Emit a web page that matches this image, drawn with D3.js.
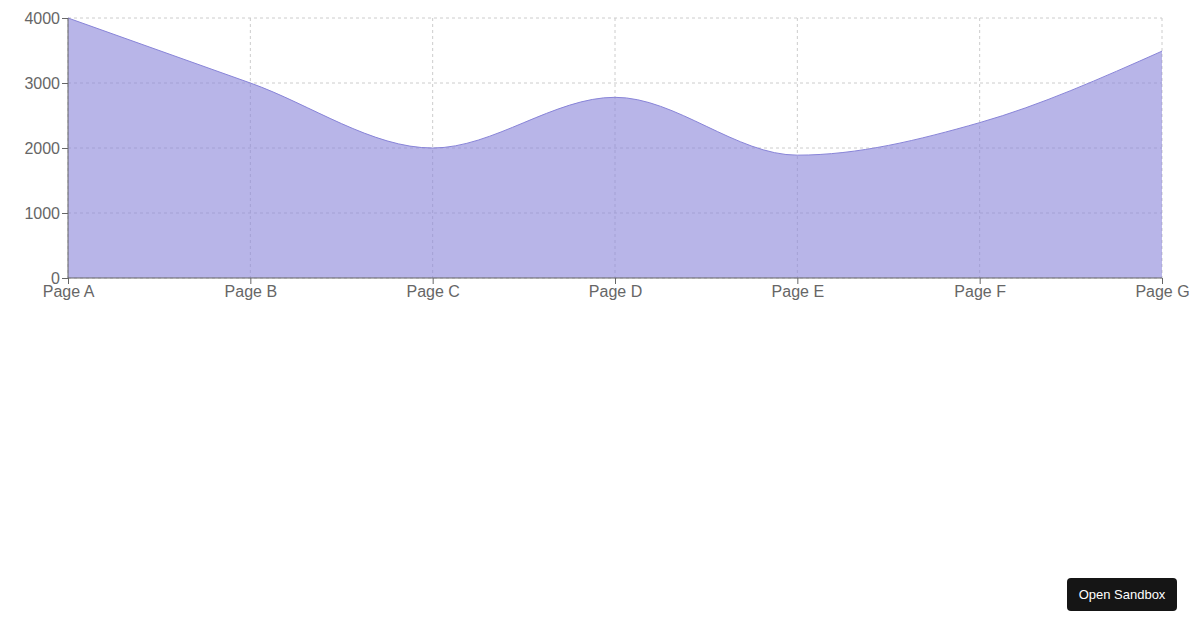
<!DOCTYPE html>
<html>
<head>
<meta charset="utf-8">
<style>
  body { margin: 0; background: #fff; font-family: "Liberation Sans", Arial, sans-serif; }
  #sandbox {
    position: absolute; left: 1067px; top: 578px; width: 110px; height: 33px;
    background: #151515; color: #fff; border-radius: 4px; font-size: 13px;
    font-family: "Liberation Sans", Arial, sans-serif;
    display: flex; align-items: center; justify-content: center;
  }
</style>
</head>
<body>
<script src="https://cdn.jsdelivr.net/npm/d3@7"></script>
<div id="sandbox">Open Sandbox</div>
<script>
  // chart data
  var pages = ["Page A", "Page B", "Page C", "Page D", "Page E", "Page F", "Page G"];
  var uv = [4000, 3000, 2000, 2780, 1890, 2390, 3490];
  var yTicks = [0, 1000, 2000, 3000, 4000];

  var margin = {top: 18, right: 38, bottom: 352, left: 68},
      width = 1200 - margin.left - margin.right,
      height = 630 - margin.top - margin.bottom;

  var data = pages.map(function (p, i) { return {name: p, uv: uv[i]}; });

  var x = d3.scalePoint().domain(pages).range([0, width]);
  var y = d3.scaleLinear().domain([0, 4000]).range([height, 0]);

  var svg = d3.select("body").append("svg")
      .attr("width", 1200)
      .attr("height", 630)
      .style("position", "absolute").style("left", 0).style("top", 0)
    .append("g")
      .attr("transform", "translate(" + margin.left + "," + margin.top + ")");

  // grid
  var grid = svg.append("g").attr("stroke", "#ccc").attr("stroke-dasharray", "3 3");
  grid.selectAll(".h").data(yTicks).enter().append("line")
      .attr("x1", 0).attr("x2", width)
      .attr("y1", function (d) { return y(d); }).attr("y2", function (d) { return y(d); });
  grid.selectAll(".v").data(pages).enter().append("line")
      .attr("y1", 0).attr("y2", height)
      .attr("x1", function (d) { return x(d); }).attr("x2", function (d) { return x(d); });

  // area
  var area = d3.area()
      .curve(d3.curveMonotoneX)
      .x(function (d) { return x(d.name); })
      .y0(height)
      .y1(function (d) { return y(d.uv); });
  var line = d3.line()
      .curve(d3.curveMonotoneX)
      .x(function (d) { return x(d.name); })
      .y(function (d) { return y(d.uv); });

  svg.append("path").datum(data)
      .attr("d", area)
      .attr("fill", "#8884d8").attr("fill-opacity", 0.6);
  svg.append("path").datum(data)
      .attr("d", line)
      .attr("fill", "none").attr("stroke", "#8884d8").attr("stroke-width", 1);

  // axes
  var xAxis = svg.append("g")
      .attr("transform", "translate(0," + height + ")")
      .call(d3.axisBottom(x).tickSize(6).tickPadding(2));
  var yAxis = svg.append("g")
      .call(d3.axisLeft(y).tickValues(yTicks).tickSize(6).tickPadding(2).tickFormat(function (d) { return d; }));

  [xAxis, yAxis].forEach(function (g) {
    g.select(".domain").attr("stroke", "#666");
    g.selectAll(".tick line").attr("stroke", "#666");
    g.selectAll(".tick text").attr("fill", "#666")
      .style("font-size", "16px")
      .style("font-family", "Liberation Sans, Arial, sans-serif");
  });
  xAxis.select(".domain").attr("d", "M0,0H" + width);
  yAxis.select(".domain").attr("d", "M0," + height + "V0");
</script>
</body>
</html>
